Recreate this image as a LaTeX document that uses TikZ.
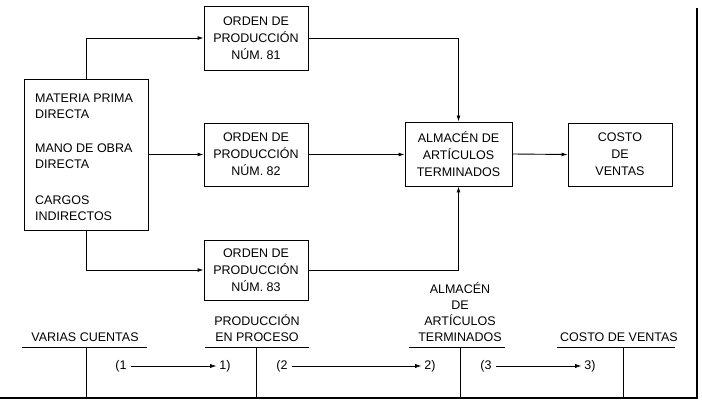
\documentclass[tikz,border=0pt]{standalone}
\usepackage{fontspec}
\setmainfont{Liberation Sans}
\usetikzlibrary{arrows.meta}
\begin{document}
\begin{tikzpicture}[x=1pt,y=-1pt,
  box/.style={draw,line width=0.9pt,align=center,font=\fontsize{12.5}{17}\selectfont,inner sep=0pt},
  lbl/.style={align=center,font=\fontsize{12.5}{16}\selectfont,inner sep=0pt},
  arr/.style={line width=0.9pt,-{Latex[length=6pt,width=4pt]}},
  tline/.style={line width=0.8pt}]
\useasboundingbox (0,0) rectangle (702,409);
\draw[line width=1.2pt] (697,8) -- (697,398) -- (0,398);
\node[box,minimum width=124pt,minimum height=151pt,align=left] (src) at (86,154.5) {};
\node[lbl,align=left,anchor=north west] (srctxt) at (35,94) {MATERIA PRIMA\\DIRECTA\\[18pt]MANO DE OBRA\\DIRECTA\\[20pt]CARGOS\\INDIRECTOS};
\node[box,minimum width=104pt,minimum height=64pt] (o81) at (256,38) {ORDEN DE\\PRODUCCIÓN\\NÚM. 81};
\node[box,minimum width=104pt,minimum height=63pt] (o82) at (256,154.5) {ORDEN DE\\PRODUCCIÓN\\NÚM. 82};
\node[box,minimum width=104pt,minimum height=60pt] (o83) at (256,270) {ORDEN DE\\PRODUCCIÓN\\NÚM. 83};
\node[box,minimum width=107pt,minimum height=64pt] (alm) at (458.5,154) {ALMACÉN DE\\ARTÍCULOS\\TERMINADOS};
\node[box,minimum width=104pt,minimum height=63pt] (cos) at (620,154.5) {COSTO\\DE\\VENTAS};
\draw[arr] (src.north -| 86,0) |- (o81.west);
\draw[arr] (src.east |- o82.west) -- (o82.west);
\draw[arr] (src.south -| 86,0) |- (o83.west);
\draw[arr] (o81.east) -| (alm.north);
\draw[arr] (o82.east) -- (o82.east -| alm.west);
\draw[arr] (o83.east) -| (alm.south);
\draw[arr] (alm.east) -- (cos.west);
% T accounts
\coordinate (t1) at (86,347); \coordinate (t2) at (256,347);
\coordinate (t3) at (460,347); \coordinate (t4) at (623,347);
\draw[tline] (22,347) -- (147,347); \draw[tline] (t1) -- (86,398);
\draw[tline] (205,347) -- (309,347); \draw[tline] (t2) -- (256,398);
\draw[tline] (409,347) -- (505,347); \draw[tline] (t3) -- (460,398);
\draw[tline] (557,347) -- (675,347); \draw[tline] (t4) -- (623,398);
\node[lbl,anchor=south] (h1) at (85,342) {VARIAS CUENTAS};
\node[lbl,anchor=south] (h2) at (257,342) {PRODUCCIÓN\\EN PROCESO};
\node[lbl,anchor=south] (h3) at (460,342) {ALMACÉN\\DE\\ARTÍCULOS\\TERMINADOS};
\node[lbl,anchor=south] (h4) at (619,342) {COSTO DE VENTAS};
\node[lbl] (a1) at (121,366) {(1};
\node[lbl] (b1) at (225,366) {1)};
\node[lbl] (a2) at (282,366) {(2};
\node[lbl] (b2) at (430,366) {2)};
\node[lbl] (a3) at (486,366) {(3};
\node[lbl] (b3) at (590,366) {3)};
\draw[arr,line width=0.6pt] (a1.east) ++(4,0) coordinate (c1) (c1) -- ([xshift=-3pt]b1.west);
\draw[arr,line width=0.6pt] (a2.east) ++(4,0) coordinate (c2) (c2) -- ([xshift=-3pt]b2.west);
\draw[arr,line width=0.6pt] (a3.east) ++(4,0) coordinate (c3) (c3) -- ([xshift=-3pt]b3.west);
\end{tikzpicture}
\end{document}
